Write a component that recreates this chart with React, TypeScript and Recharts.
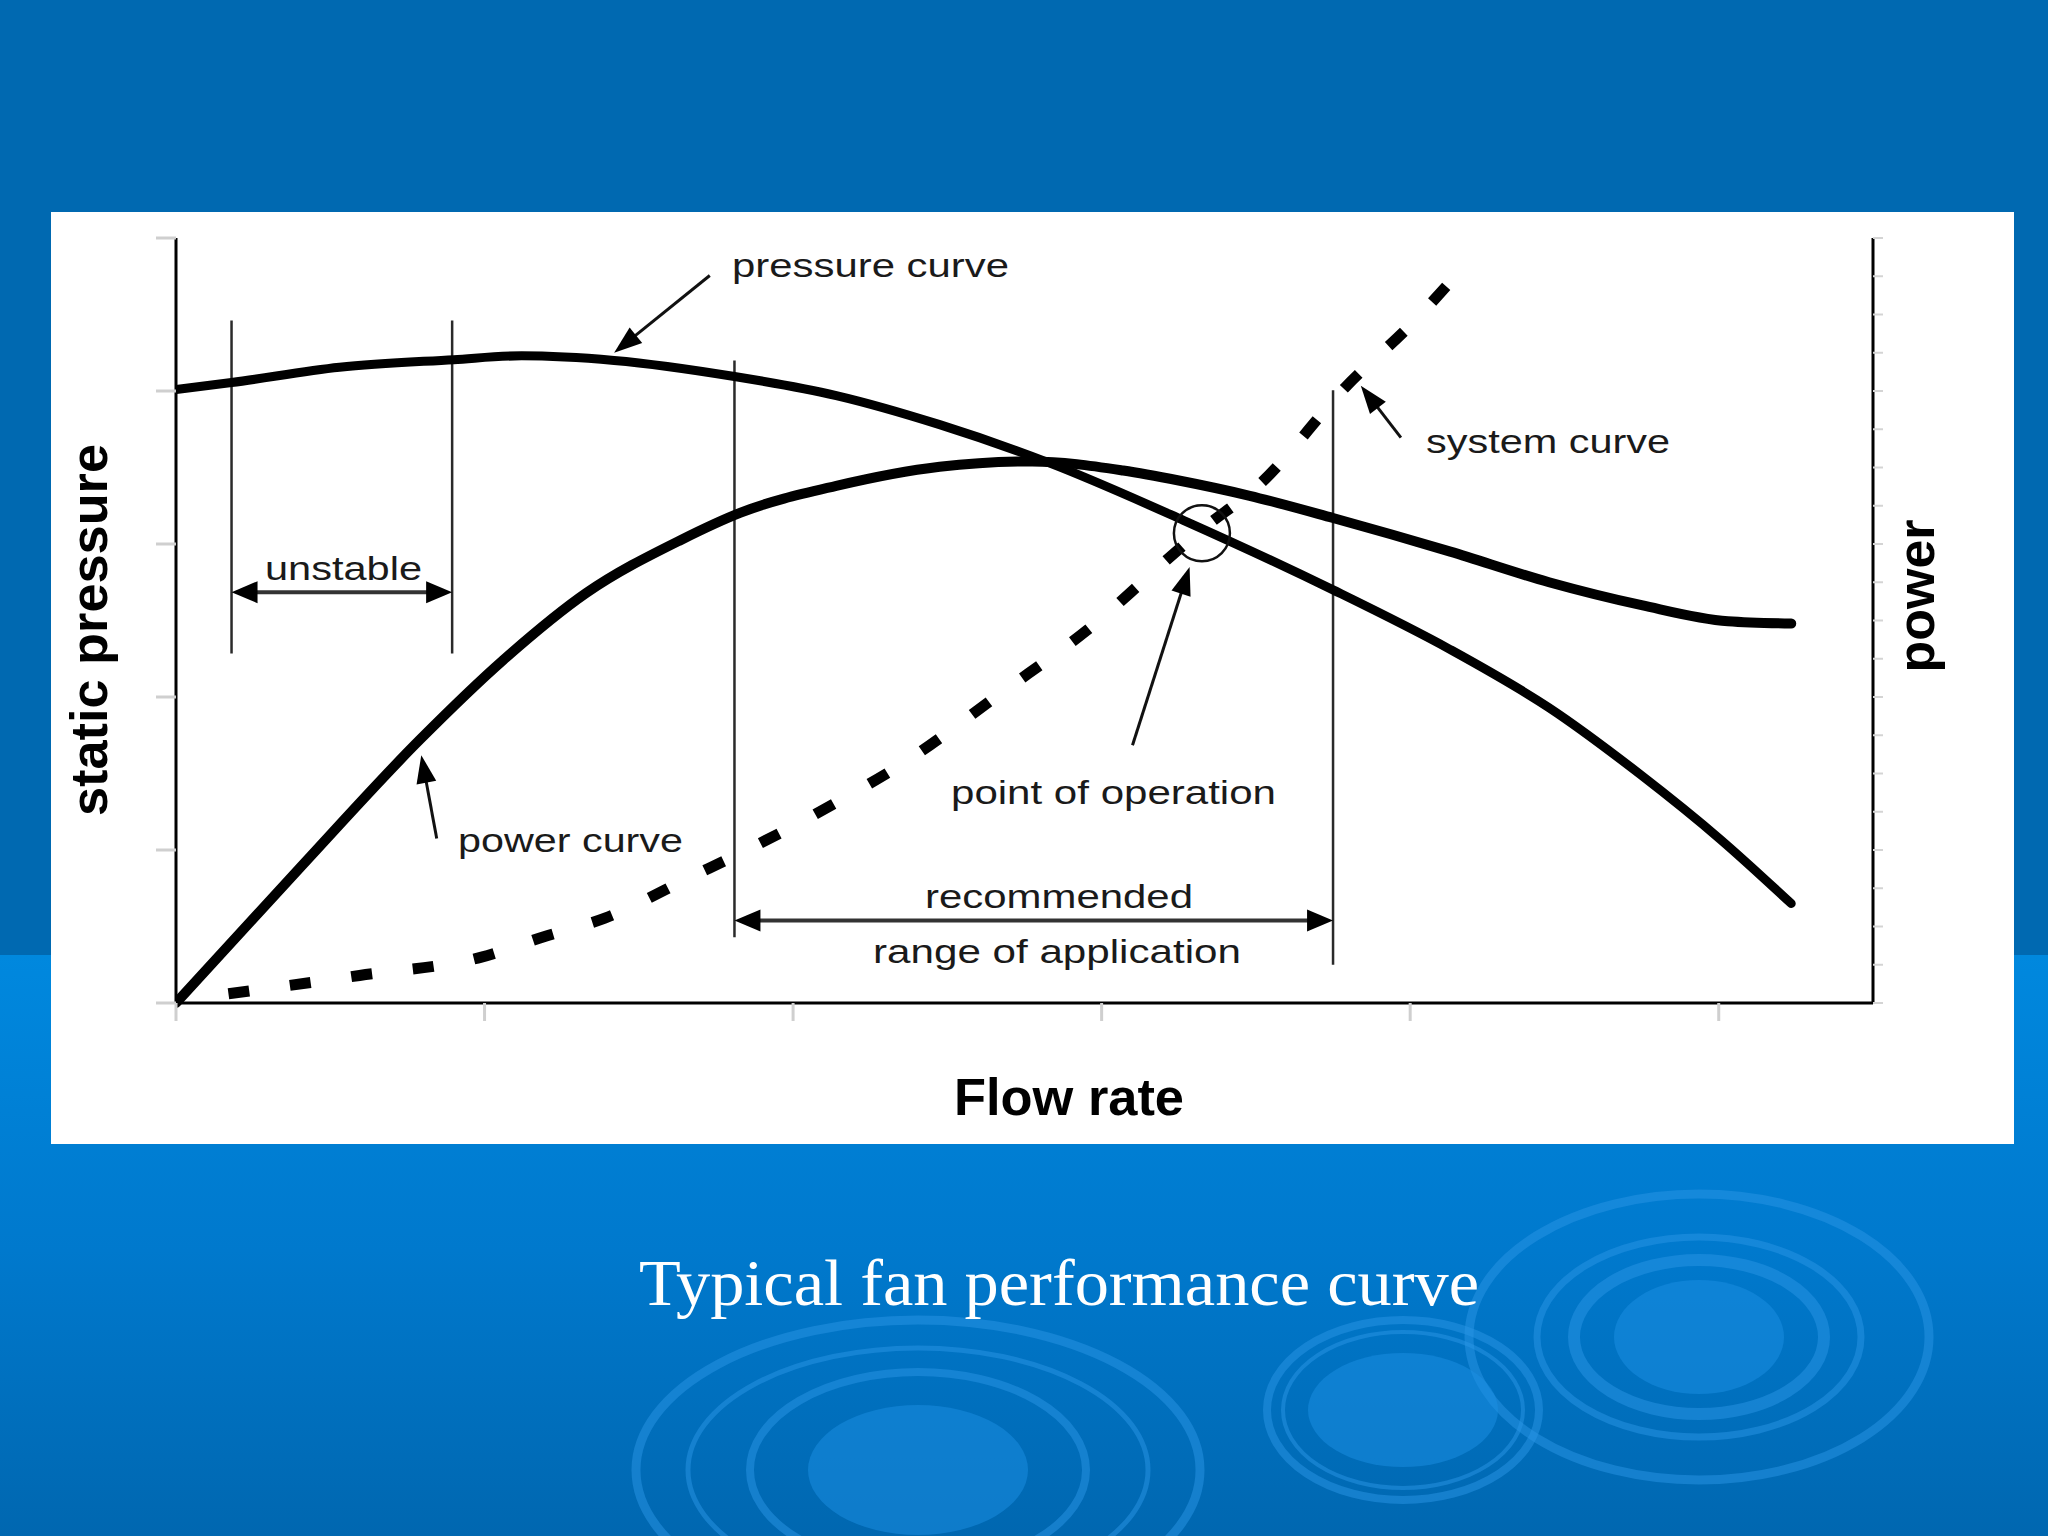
import React from 'react';
import { LineChart, Line, XAxis, YAxis, ReferenceLine, ReferenceDot } from 'recharts';

// flow rate (x) vs static pressure for the fan
const pressureFlow = [0, 3.6, 10.6, 18, 22.4, 28.4, 36.2, 42.8, 49.5, 56.6, 65.3, 75, 82.6, 89, 94.9, 100.1, 104.7];
const pressureValues = [80.2, 81.1, 83.1, 84.1, 84.6, 84, 81.9, 79.4, 75.6, 70.6, 63.1, 54, 46.2, 38.6, 29.9, 21.4, 13];

// flow rate vs shaft power
const powerFlow = [0, 8, 15.8, 21.2, 26.6, 32.7, 36.6, 42.8, 49.5, 55.5, 61.4, 65, 69.6, 75, 82.6, 89, 95, 100.6, 104.7];
const powerValues = [0, 17.6, 34.4, 44.8, 53.6, 60.5, 64.1, 67.6, 70.1, 70.8, 69.6, 68.3, 66.3, 63.4, 59, 55, 52, 49.9, 49.6];

// system resistance curve (dashed)
const systemFlow = [3.4, 11.9, 19.8, 23.9, 27.8, 33.5, 36.9, 43.5, 46.8, 53.4, 60, 63.1, 66.2, 70.4, 75.8, 80.3, 83.4];
const systemValues = [1.2, 3.6, 6.0, 8.7, 11.1, 16.6, 19.9, 27, 30.9, 40.4, 50.3, 55.9, 61.4, 68.1, 80.5, 89.2, 96.1];

const flowTicks = [0, 20, 40, 60, 80, 100];
const pressureTicks = [0, 20, 40, 60, 80, 100];
const powerTicks = [0, 5, 10, 15, 20, 25, 30, 35, 40, 45, 50, 55, 60, 65, 70, 75, 80, 85, 90, 95, 100];

// annotation values (in data units)
const unstableRange = [3.6, 17.9];
const unstableSpan = [45.7, 89.2];
const unstableArrowAt = 53.7;
const recommendedRange = [36.2, 75];
const recommendedSpanLeft = [8.6, 84.0];
const recommendedSpanRight = [5.0, 80.1];
const recommendedArrowAt = 10.8;
const operatingPoint = [66.5, 61.4];
const pointers = [
  { from: [34.6, 95.1], to: [28.4, 85.0] }, // pressure curve
  { from: [79.4, 73.9], to: [76.8, 80.7] }, // system curve
  { from: [16.9, 21.5], to: [15.9, 32.4] }, // power curve
  { from: [62.0, 33.7], to: [65.7, 57.0] }, // point of operation
];

const zip = (xs: number[], ys: number[]) => xs.map((x, i) => ({ x, y: ys[i] }));
const pressureData = zip(pressureFlow, pressureValues);
const powerData = zip(powerFlow, powerValues);
const systemData = zip(systemFlow, systemValues);

const DoubleArrow = (props: any) => {
  const { x1, y1, x2, y2 } = props;
  const h = 26;
  const w = 11;
  return (
    <g>
      <line x1={x1 + h - 4} y1={y1} x2={x2 - h + 4} y2={y2} stroke="#333" strokeWidth={4} />
      <polygon points={`${x1},${y1} ${x1 + h},${y1 - w} ${x1 + h},${y1 + w}`} fill="#000" />
      <polygon points={`${x2},${y2} ${x2 - h},${y2 - w} ${x2 - h},${y2 + w}`} fill="#000" />
    </g>
  );
};

const Pointer = (props: any) => {
  const { x1, y1, x2, y2 } = props;
  const dx = x2 - x1;
  const dy = y2 - y1;
  const len = Math.hypot(dx, dy) || 1;
  const ux = dx / len;
  const uy = dy / len;
  const h = 28;
  const w = 10;
  const bx = x2 - ux * h;
  const by = y2 - uy * h;
  return (
    <g>
      <line x1={x1} y1={y1} x2={bx + ux * 4} y2={by + uy * 4} stroke="#111" strokeWidth={3} />
      <polygon
        points={`${x2},${y2} ${bx - uy * w},${by + ux * w} ${bx + uy * w},${by - ux * w}`}
        fill="#000"
      />
    </g>
  );
};

const sans = '"Liberation Sans", Arial, Helvetica, sans-serif';

export default function App() {
  return (
    <div
      style={{
        position: 'absolute',
        left: 0,
        top: 0,
        width: 2048,
        height: 1536,
        overflow: 'hidden',
        background:
          'linear-gradient(to bottom, #0069b1 0px, #0069b1 955px, #0088de 955px, #0079cd 1250px, #0067b0 1536px)',
      }}
    >
      {/* decorative rings of the slide template */}
      <svg width={2048} height={1536} style={{ position: 'absolute', left: 0, top: 0 }}>
        <g fill="none" stroke="#2a95e6" strokeOpacity={0.5}>
          <ellipse cx={1699} cy={1337} rx={230} ry={143} strokeWidth={9} />
          <ellipse cx={1699} cy={1337} rx={162} ry={100} strokeWidth={7} />
          <ellipse cx={1699} cy={1337} rx={125} ry={77} strokeWidth={12} />
          <ellipse cx={1403} cy={1410} rx={136} ry={90} strokeWidth={8} />
          <ellipse cx={1403} cy={1410} rx={120} ry={78} strokeWidth={4} />
          <ellipse cx={918} cy={1470} rx={282} ry={150} strokeWidth={9} />
          <ellipse cx={918} cy={1470} rx={230} ry={122} strokeWidth={5} />
          <ellipse cx={918} cy={1470} rx={168} ry={98} strokeWidth={8} />
        </g>
        <g fill="#1c8fe4" fillOpacity={0.5}>
          <ellipse cx={1699} cy={1337} rx={85} ry={57} />
          <ellipse cx={1403} cy={1410} rx={95} ry={57} />
          <ellipse cx={918} cy={1470} rx={110} ry={65} />
        </g>
      </svg>

      <div style={{ position: 'absolute', left: 51, top: 212, width: 1963, height: 932, background: '#fff' }} />

      <div style={{ position: 'absolute', left: 0, top: 0 }}>
        <LineChart width={2048} height={1536} margin={{ top: 238, right: 115, bottom: 493, left: 116 }}>
          <XAxis
            dataKey="x"
            type="number"
            domain={[0, 110]}
            ticks={flowTicks}
            allowDataOverflow
            height={40}
            tickSize={18}
            tickFormatter={() => ''}
            axisLine={{ stroke: '#000', strokeWidth: 3 }}
            tickLine={{ stroke: '#cfcfcf', strokeWidth: 3 }}
          />
          <YAxis
            yAxisId="left"
            type="number"
            domain={[0, 100]}
            ticks={pressureTicks}
            width={60}
            tickSize={20}
            tickFormatter={() => ''}
            axisLine={{ stroke: '#000', strokeWidth: 3 }}
            tickLine={{ stroke: '#cfcfcf', strokeWidth: 3 }}
          />
          <YAxis
            yAxisId="right"
            orientation="right"
            type="number"
            domain={[0, 100]}
            ticks={powerTicks}
            width={60}
            tickSize={10}
            tickFormatter={() => ''}
            axisLine={{ stroke: '#000', strokeWidth: 3 }}
            tickLine={{ stroke: '#d4d4d4', strokeWidth: 2 }}
          />

          <ReferenceLine
            yAxisId="left"
            segment={[{ x: unstableRange[0], y: unstableSpan[0] }, { x: unstableRange[0], y: unstableSpan[1] }]}
            stroke="#2a2a2a"
            strokeWidth={2.5}
          />
          <ReferenceLine
            yAxisId="left"
            segment={[{ x: unstableRange[1], y: unstableSpan[0] }, { x: unstableRange[1], y: unstableSpan[1] }]}
            stroke="#2a2a2a"
            strokeWidth={2.5}
          />
          <ReferenceLine
            yAxisId="left"
            segment={[{ x: recommendedRange[0], y: recommendedSpanLeft[0] }, { x: recommendedRange[0], y: recommendedSpanLeft[1] }]}
            stroke="#2a2a2a"
            strokeWidth={2.5}
          />
          <ReferenceLine
            yAxisId="left"
            segment={[{ x: recommendedRange[1], y: recommendedSpanRight[0] }, { x: recommendedRange[1], y: recommendedSpanRight[1] }]}
            stroke="#2a2a2a"
            strokeWidth={2.5}
          />
          <ReferenceLine
            yAxisId="left"
            segment={[{ x: unstableRange[0], y: unstableArrowAt }, { x: unstableRange[1], y: unstableArrowAt }]}
            shape={DoubleArrow}
          />
          <ReferenceLine
            yAxisId="left"
            segment={[{ x: recommendedRange[0], y: recommendedArrowAt }, { x: recommendedRange[1], y: recommendedArrowAt }]}
            shape={DoubleArrow}
          />
          {pointers.map((p, i) => (
            <ReferenceLine
              key={i}
              yAxisId="left"
              segment={[{ x: p.from[0], y: p.from[1] }, { x: p.to[0], y: p.to[1] }]}
              shape={Pointer}
            />
          ))}

          <Line
            yAxisId="left"
            data={systemData}
            dataKey="y"
            type="monotone"
            stroke="#000"
            strokeWidth={11}
            strokeDasharray="21 41"
            dot={false}
            activeDot={false}
            isAnimationActive={false}
          />
          <Line
            yAxisId="left"
            data={pressureData}
            dataKey="y"
            type="monotone"
            stroke="#000"
            strokeWidth={9}
            strokeLinecap="round"
            dot={false}
            activeDot={false}
            isAnimationActive={false}
          />
          <Line
            yAxisId="right"
            data={powerData}
            dataKey="y"
            type="monotone"
            stroke="#000"
            strokeWidth={10}
            strokeLinecap="round"
            dot={false}
            activeDot={false}
            isAnimationActive={false}
          />
          <ReferenceDot
            yAxisId="left"
            x={operatingPoint[0]}
            y={operatingPoint[1]}
            r={28}
            fill="none"
            stroke="#111"
            strokeWidth={2.5}
          />
        </LineChart>
      </div>

      <svg width={2048} height={1536} style={{ position: 'absolute', left: 0, top: 0, pointerEvents: 'none' }}>
        <g fontFamily={sans} fontSize={34} fill="#1a1a1a">
          <text x={732} y={277} textLength={277} lengthAdjust="spacingAndGlyphs">pressure curve</text>
          <text x={1426} y={453} textLength={244} lengthAdjust="spacingAndGlyphs">system curve</text>
          <text x={265} y={580} textLength={157} lengthAdjust="spacingAndGlyphs">unstable</text>
          <text x={458} y={852} textLength={225} lengthAdjust="spacingAndGlyphs">power curve</text>
          <text x={951} y={804} textLength={325} lengthAdjust="spacingAndGlyphs">point of operation</text>
          <text x={925} y={908} textLength={268} lengthAdjust="spacingAndGlyphs">recommended</text>
          <text x={873} y={963} textLength={368} lengthAdjust="spacingAndGlyphs">range of application</text>
        </g>
        <g fontFamily={sans} fontWeight="bold" fontSize={52} fill="#000">
          <text x={954} y={1115} textLength={230} lengthAdjust="spacingAndGlyphs">Flow rate</text>
          <text
            x={0}
            y={0}
            textAnchor="middle"
            transform="translate(107 630) rotate(-90)"
            textLength={372}
            lengthAdjust="spacingAndGlyphs"
          >
            static pressure
          </text>
          <text
            x={0}
            y={0}
            textAnchor="middle"
            transform="translate(1934 596) rotate(-90)"
            textLength={153}
            lengthAdjust="spacingAndGlyphs"
          >
            power
          </text>
        </g>
        <text
          x={639}
          y={1305}
          fontFamily='"Liberation Serif", "Times New Roman", serif'
          fontSize={66}
          fill="#fff"
          textLength={840}
          lengthAdjust="spacingAndGlyphs"
        >
          Typical fan performance curve
        </text>
      </svg>
    </div>
  );
}
